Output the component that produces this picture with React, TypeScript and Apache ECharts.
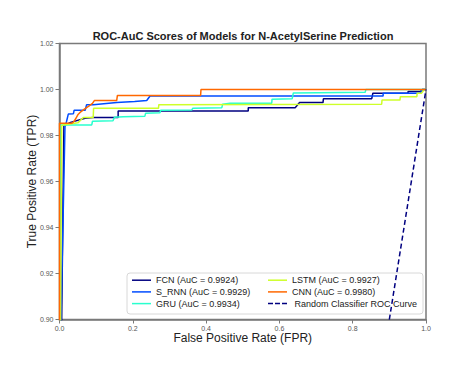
import React, { useEffect, useRef } from "react";
import * as echarts from "echarts";

const FONT = "Liberation Sans, Arial, sans-serif";

const seriesNames = [
  "FCN (AuC = 0.9924)",
  "S_RNN (AuC = 0.9929)",
  "GRU (AuC = 0.9934)",
  "LSTM (AuC = 0.9927)",
  "CNN (AuC = 0.9980)",
  " Random Classifier ROC Curve",
];

const xTicks = [0, 0.2, 0.4, 0.6, 0.8, 1.0];
const yTicks = [0.9, 0.92, 0.94, 0.96, 0.98, 1.0, 1.02];

const fcn = [
  [0, 0], [0.006, 0.9], [0.012, 0.9843], [0.03, 0.9857], [0.07, 0.9875], [0.092, 0.9878],
  [0.16, 0.9878], [0.16, 0.9907], [0.515, 0.9907], [0.515, 0.9921], [0.643, 0.9921],
  [0.655, 0.9943], [0.719, 0.9943], [0.72, 0.996], [0.852, 0.996], [0.855, 0.9984],
  [0.951, 0.9984], [0.951, 0.9991], [0.984, 0.9991], [0.99, 1.0], [1, 1],
];

const sRnn = [
  [0, 0], [0.004, 0.9], [0.015, 0.9838], [0.019, 0.986], [0.024, 0.9893], [0.038, 0.9895],
  [0.04, 0.991], [0.07, 0.991], [0.074, 0.9934], [0.092, 0.9934], [0.156, 0.9943],
  [0.205, 0.9948], [0.238, 0.9952], [0.247, 0.9972], [0.883, 0.9972], [0.883, 0.9984],
  [0.985, 0.9984], [0.99, 1.0], [1, 1],
];

const gru = [
  [0, 0], [0.001, 0.9], [0.004, 0.9846], [0.088, 0.9846], [0.09, 0.9862], [0.146, 0.9864],
  [0.15, 0.9879], [0.174, 0.9882], [0.233, 0.9884], [0.235, 0.9897], [0.274, 0.9899],
  [0.276, 0.991], [0.361, 0.9911], [0.364, 0.9919], [0.443, 0.9921], [0.445, 0.9936],
  [0.465, 0.994], [0.579, 0.994], [0.58, 0.9958], [0.635, 0.996], [0.638, 0.9985],
  [0.834, 0.9988], [0.836, 1.0], [1, 1],
];

const lstm = [
  [0, 0], [0.003, 0.9], [0.006, 0.9845], [0.05, 0.9855], [0.065, 0.9878], [0.092, 0.9878],
  [0.093, 0.9918], [0.27, 0.9918], [0.271, 0.9934], [0.879, 0.9936], [0.88, 0.9954],
  [0.929, 0.9954], [0.93, 0.9969], [0.975, 0.9969], [0.976, 0.9984], [0.988, 0.9984],
  [0.995, 1.0], [1, 1],
];

const cnn = [
  [0, 0], [0, 0.9853], [0.034, 0.9853], [0.04, 0.9862], [0.045, 0.9875], [0.05, 0.989],
  [0.058, 0.9903], [0.068, 0.9915], [0.08, 0.9928], [0.09, 0.994], [0.095, 0.9952],
  [0.156, 0.9952], [0.158, 0.9974], [0.385, 0.9974], [0.386, 1.0], [1, 1],
];

const randomLine = [
  [0, 0], [1, 1],
];

const seriesData = [fcn, sRnn, gru, lstm, cnn, randomLine];
const colors = ["#000080", "#004cff", "#29ffce", "#ceff29", "#ff6800", "#000080"];

const solidIcon = "path://M0,0H19V1.5H0Z";
const dashIcon = "path://M0,0H5V1.5H0Z M7,0H12V1.5H7Z M14,0H19V1.5H14Z";

export default function App() {
  const ref = useRef<HTMLDivElement>(null);

  useEffect(() => {
    document.body.style.margin = "0";
    if (!ref.current) return;
    const chart = echarts.init(ref.current, null, { renderer: "svg" });

    const frame = "#7a7a7a";
    const labelColor = "#555";

    const series = seriesData.map((d, i) => ({
      name: seriesNames[i],
      type: "line",
      data: d,
      symbol: "none",
      showSymbol: false,
      clip: true,
      z: i === 5 ? 3 : 2,
      lineStyle: {
        color: colors[i],
        width: 1.5,
        type: i === 5 ? [5, 3] : "solid",
      },
      itemStyle: { color: colors[i] },
    }));

    const legendCommon = {
      orient: "vertical",
      top: 275.7,
      padding: 0,
      itemWidth: 19,
      itemHeight: 10,
      itemGap: 2.7,
      itemTextGap: 7,
      symbolKeepAspect: true,
      textStyle: { fontSize: 9, fontFamily: FONT, color: "#222" },
      selectedMode: false,
    };

    const legendData = seriesNames.map((n, i) => ({ name: n, icon: i === 5 ? dashIcon : solidIcon }));

    chart.setOption({
      animation: false,
      backgroundColor: "#ffffff",
      title: {
        text: "ROC-AuC Scores of Models for N-AcetylSerine Prediction",
        left: 243,
        top: 30,
        textAlign: "center",
        padding: 0,
        textStyle: { fontSize: 11, fontWeight: "bold", color: "#222", fontFamily: FONT },
      },
      grid: {
        left: 59.5,
        top: 43.5,
        width: 366.5,
        height: 276,
        show: true,
        borderColor: frame,
        borderWidth: 1.5,
        backgroundColor: "transparent",
      },
      xAxis: {
        type: "value",
        min: 0,
        max: 1,
        interval: 0.2,
        name: "False Positive Rate (FPR)",
        nameLocation: "middle",
        nameGap: 12.5,
        nameMoveOverlap: false,
        nameTextStyle: { fontSize: 12, color: "#222", fontFamily: FONT },
        axisLine: { show: true, lineStyle: { color: frame, width: 1.5 } },
        axisTick: { show: true, length: 4, lineStyle: { color: frame, width: 1 } },
        splitLine: { show: false },
        axisLabel: {
          fontSize: 7,
          color: labelColor,
          fontFamily: FONT,
          margin: 5,
          formatter: (v: number) => (xTicks.some((t) => Math.abs(t - v) < 1e-6) ? v.toFixed(1) : ""),
        },
      },
      yAxis: {
        type: "value",
        min: 0.9,
        max: 1.02,
        interval: 0.02,
        name: "True Positive Rate (TPR)",
        nameLocation: "middle",
        nameGap: 22,
        nameMoveOverlap: false,
        nameTextStyle: { fontSize: 12, color: "#222", fontFamily: FONT },
        axisLine: { show: true, lineStyle: { color: frame, width: 1.5 } },
        axisTick: { show: true, length: 4, lineStyle: { color: frame, width: 1 } },
        splitLine: { show: false },
        axisLabel: {
          fontSize: 7,
          color: labelColor,
          fontFamily: FONT,
          margin: 6,
          formatter: (v: number) => (yTicks.some((t) => Math.abs(t - v) < 1e-6) ? v.toFixed(2) : ""),
        },
      },
      legend: [
        { ...legendCommon, left: 132, data: legendData.slice(0, 3) },
        { ...legendCommon, left: 268, data: legendData.slice(3, 6) },
      ],
      graphic: [
        {
          type: "rect",
          z: 3,
          shape: { x: 127, y: 273, width: 296, height: 41, r: 3 },
          style: { fill: "rgba(255,255,255,0.8)", stroke: "#d8d8d8", lineWidth: 1 },
        },
      ],
      series,
    });

    return () => chart.dispose();
  }, []);

  return <div ref={ref} style={{ width: 474, height: 365 }} />;
}
